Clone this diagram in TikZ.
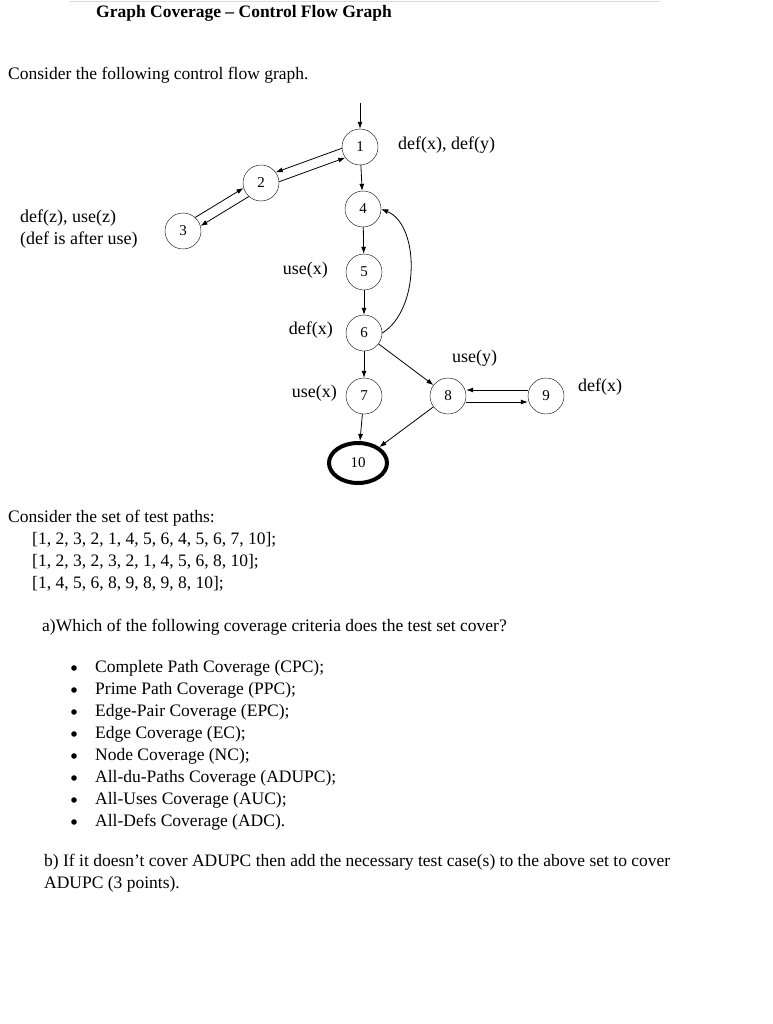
\documentclass[tikz,border=0pt]{standalone}
\usepackage{fontspec}
\setmainfont{Liberation Serif}
\usetikzlibrary{arrows.meta,shapes.geometric}
\begin{document}
\begin{tikzpicture}[x=1pt,y=-1pt,
  nd/.style={circle,draw,minimum size=36pt,inner sep=0pt,font=\fontsize{15}{17}\selectfont},
  lbl/.style={font=\fontsize{18}{20}\selectfont,inner sep=0pt},
  txt/.style={font=\fontsize{17.5}{20}\selectfont,inner sep=0pt,anchor=west},
  ar/.style={-{Latex[length=7pt,width=5pt]},line width=0.8pt}]
\useasboundingbox (0,0) rectangle (772,1024);
\draw[gray!30] (70,1.5) -- (660,1.5);
\node[txt,font=\fontsize{17.5}{20}\selectfont\bfseries] (title) at (96,13) {Graph Coverage -- Control Flow Graph};
\node[txt] (intro) at (8,75) {Consider the following control flow graph.};
% nodes
\node[nd] (n1) at (360,147) {1};
\node[nd] (n2) at (261,183) {2};
\node[nd] (n3) at (183,231) {3};
\node[nd] (n4) at (363,209) {4};
\node[nd] (n5) at (364,272) {5};
\node[nd] (n6) at (364,333) {6};
\node[nd] (n7) at (364,396) {7};
\node[nd] (n8) at (448,396) {8};
\node[nd] (n9) at (546,396) {9};
\node[ellipse,draw,line width=4pt,minimum width=58pt,minimum height=40pt,inner sep=0pt,font=\fontsize{15}{17}\selectfont] (n10) at (358,463) {10};
\coordinate (start) at (360,103);
% edges
\draw[ar] (start) -- (n1);
\draw[ar] (n1.184) -- (n2.36);
\draw[ar] (n2.4) -- (n1.216);
\draw[ar] (n3.48) -- (n2.196);
\draw[ar] (n2.228) -- (n3.16);
\draw[ar] (n1) -- (n4);
\draw[ar] (n4) -- (n5);
\draw[ar] (n5) -- (n6);
\draw[ar] (n6) -- (n7);
\draw[ar] (n6.east) .. controls (420,310) and (420,225) .. (n4.east);
\draw[ar] (n6) -- (n8);
\draw[ar] ([yshift=-6pt]n8.east) -- ([yshift=-6pt]n9.west);
\draw[ar] ([yshift=6pt]n9.west) -- ([yshift=6pt]n8.east);
\draw[ar] (n7) -- (n10);
\draw[ar] (n8) -- (n10);
% labels
\node[lbl,anchor=west] (l1) at (398,145) {def(x), def(y)};
\node[lbl,anchor=west] (l3a) at (20,218) {def(z), use(z)};
\node[lbl,anchor=west] (l3b) at (20,240) {(def is after use)};
\node[lbl,anchor=east] (l5) at (328,270) {use(x)};
\node[lbl,anchor=east] (l6) at (333,330) {def(x)};
\node[lbl,anchor=west] (l8) at (452,358) {use(y)};
\node[lbl,anchor=east] (l7) at (337,393) {use(x)};
\node[lbl,anchor=west] (l9) at (578,387) {def(x)};
% text
\node[txt] (tp) at (8,518) {Consider the set of test paths:};
\node[txt] (p1) at (32,540) {[1, 2, 3, 2, 1, 4, 5, 6, 4, 5, 6, 7, 10];};
\node[txt] (p2) at (32,562) {[1, 2, 3, 2, 3, 2, 1, 4, 5, 6, 8, 10];};
\node[txt] (p3) at (32,584) {[1, 4, 5, 6, 8, 9, 8, 9, 8, 10];};
\node[txt] (qa) at (42,627) {a)Which of the following coverage criteria does the test set cover?};
\foreach \t [count=\i] in {Complete Path Coverage (CPC);,Prime Path Coverage (PPC);,Edge-Pair Coverage (EPC);,Edge Coverage (EC);,Node Coverage (NC);,All-du-Paths Coverage (ADUPC);,All-Uses Coverage (AUC);,All-Defs Coverage (ADC).}{
  \fill (74,646+22*\i) circle (2.8pt);
  \node[txt] (b\i) at (95,646+22*\i) {\t};
}
\node[txt] (qb1) at (44,862) {b) If it doesn't cover ADUPC then add the necessary test case(s) to the above set to cover};
\node[txt] (qb2) at (44,884) {ADUPC (3 points).};
\end{tikzpicture}
\end{document}
